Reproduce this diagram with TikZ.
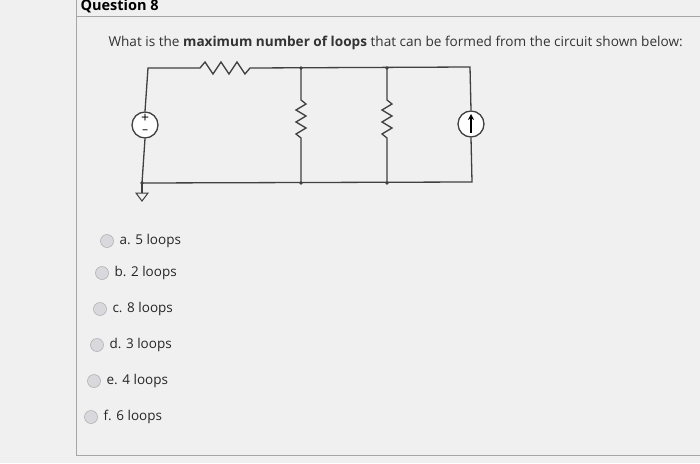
\documentclass[tikz,border=0pt]{standalone}
\usepackage{fontspec}
\usetikzlibrary{arrows.meta}
\setmainfont{Open Sans}
\begin{document}
\begin{tikzpicture}[x=1pt,y=-1pt,line width=1.1pt,
 wire/.style={draw=black!75,line width=1.3pt},
 opt/.style={anchor=west,font=\fontsize{13.5}{15}\selectfont,text=black!85,inner sep=0pt},
 radio/.style={circle,draw=black!30,line width=0.6pt,fill=blue!12!black!15,minimum size=13pt,inner sep=0pt},
 src/.style={circle,draw=black!75,line width=1.3pt,fill=white,minimum size=26pt,inner sep=0pt}]
\fill[black!6] (0,0) rectangle (700,463);
\useasboundingbox (0,0) rectangle (700,463);
\draw[black!35,line width=0.8pt] (76,0) -- (76,455) -- (700,455);
\draw[black!35,line width=0.8pt] (76,16) -- (700,16);
\node[anchor=west,inner sep=0pt,font=\bfseries\fontsize{14.5}{16}\selectfont] (q) at (80,6) {Question 8};
\node[anchor=west,inner sep=0pt,font=\fontsize{13.6}{16}\selectfont,text=black!80] (t) at (108,43) {What is the \textbf{maximum number of loops} that can be formed from the circuit shown below:};
% circuit
\coordinate (tl) at (148,68); \coordinate (tr) at (470,67);
\coordinate (bl) at (142,183); \coordinate (br) at (472,182);
\node[src] (vs) at (145,125) {};
\node[font=\fontsize{14}{14}\selectfont,inner sep=0pt] (vp) at (145,118) {+};
\node[font=\fontsize{12}{12}\selectfont,inner sep=0pt] (vm) at (145,132) {--};
\node[src] (is) at (471,124) {};
\draw[-{Stealth[length=6pt,width=6pt]},line width=1.5pt] (471,133) -- (471,114);
\draw[wire] (vs.north) -- (tl) -- (200,68) -- (205,62) -- (213,74) -- (221,62) -- (229,74) -- (237,62) -- (245,74) -- (250,68) -- (tr) -- (is.north);
\draw[wire] (vs.south) -- (bl) -- (br) -- (is.south);
\foreach \x/\n in {301/a,387/b}{
 \draw[wire] (\x,68) -- (\x,100) -- (\x+5,104) -- (\x-5,110) -- (\x+5,116) -- (\x-5,122) -- (\x+5,128) -- (\x-5,134) -- (\x,138) -- (\x,183);
 \fill[black!75] (\x,68) circle (1.8pt) (\x,183) circle (1.8pt);
}
\fill[black!75] (bl) circle (1.8pt);
\draw[wire] (bl) -- (142,193);
\draw[black!75,line width=1pt] (136,193) -- (148,193) -- (142,201) -- cycle;
% options
\foreach \x/\y/\s in {107/241/a. 5 loops,102/273/b. 2 loops,100/309/c. 8 loops,97/345/d. 3 loops,94/381/e. 4 loops,91/417/f. 6 loops}{
 \node[radio] at (\x,\y) {};
 \node[opt] at (\x+12,\y) {\s};
}
\end{tikzpicture}
\end{document}
